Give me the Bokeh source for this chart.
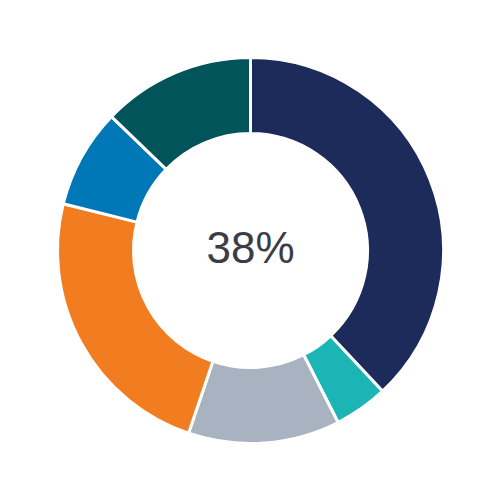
import math
from bokeh.models import ColumnDataSource, Range1d
from bokeh.plotting import figure
from bokeh.core.properties import value
from bokeh.embed import file_html
from bokeh.resources import INLINE

# slices, clockwise from 12 o'clock
labels = ["A", "B", "C", "D", "E", "F"]
shares = [38.0, 4.5, 12.7, 23.7, 8.3, 12.8]
colors = ["#1c2b5a", "#1cb5b6", "#a8b2c0", "#f27d20", "#0077b6", "#00545a"]
center_label = "38%"

total = sum(shares)
starts, ends = [], []
a = math.pi / 2
for s in shares:
    starts.append(a)
    a = a - s / total * 2 * math.pi
    ends.append(a)

# clockwise wedge: go from start down to end, so swap for anticlock drawing
source = ColumnDataSource(data=dict(label=labels, share=shares, color=colors,
                                    start=ends, end=starts))

p = figure(width=484, height=484, output_backend="svg", toolbar_location=None,
           x_range=Range1d(-250, 234), y_range=Range1d(-234, 250), min_border=0)
p.annular_wedge(x=0, y=0, inner_radius=117, outer_radius=193,
                start_angle="start", end_angle="end", color="color",
                line_color="white", line_width=3, source=source)
p.text(x=[0], y=[3], text=[center_label], text_align="center",
       text_baseline="middle", text_font=value("Liberation Sans"),
       text_font_size="44px", text_color="#3a3d47")

p.axis.visible = False
p.grid.visible = False
p.outline_line_color = None

open("out.html", "w").write(file_html(p, INLINE))
